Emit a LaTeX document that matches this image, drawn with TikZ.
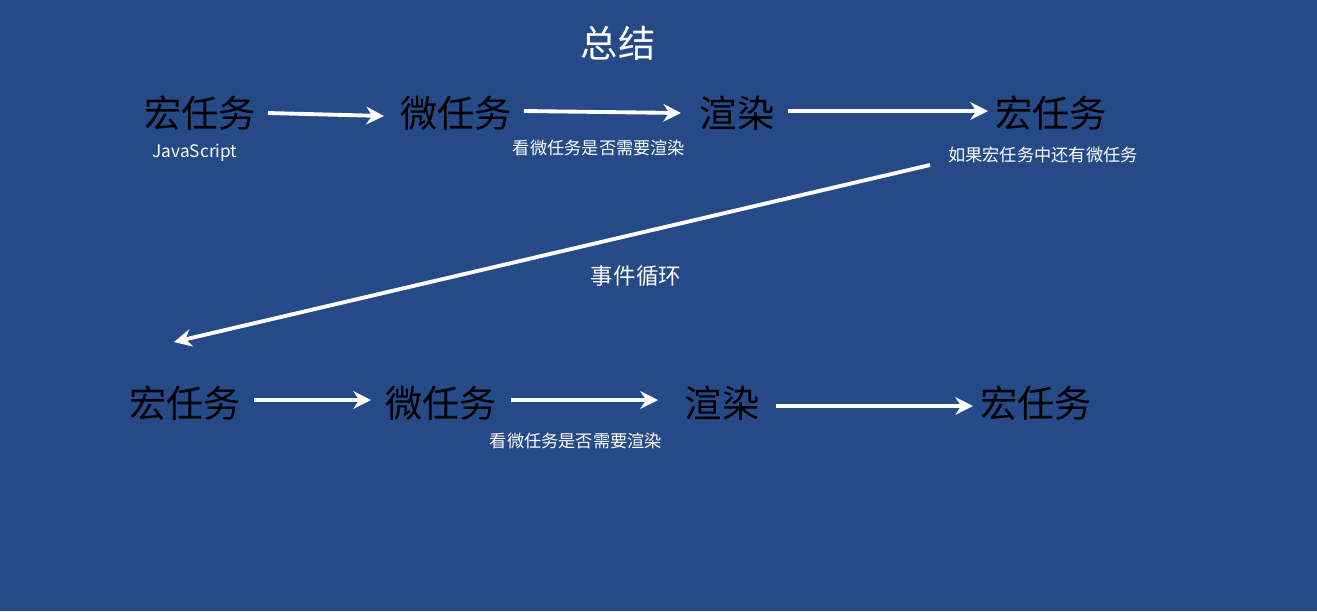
\documentclass[tikz,border=0pt]{standalone}
\usepackage{fontspec}
\setmainfont{Noto Sans CJK SC}
\usetikzlibrary{arrows.meta}
\definecolor{bg}{HTML}{264A87}
\begin{document}
\begin{tikzpicture}[x=0.01cm,y=-0.01cm,
  big/.style={font=\fontsize{10.6}{12}\selectfont,text=black,inner sep=0pt},
  small/.style={font=\fontsize{4.9}{6}\selectfont,text=white,inner sep=0pt},
  arr/.style={draw=white,line width=1.1pt,-{Stealth[length=5pt,width=5pt]}}]
\fill[bg] (0,0) rectangle (1317,611);
\useasboundingbox (0,0) rectangle (1317,611);
\node[font=\fontsize{10.6}{12}\selectfont,text=white] (t) at (618,43) {总结};
\node[big] (a1) at (200,113) {宏任务};
\node[big] (b1) at (456,113) {微任务};
\node[big] (c1) at (737,113) {渲染};
\node[big] (d1) at (1051,113) {宏任务};
\node[small] (js) at (195,153) {JavaScript};
\node[small] (l1) at (599,148) {看微任务是否需要渲染};
\node[small] (l2) at (1043,155) {如果宏任务中还有微任务};
\node[font=\fontsize{6.4}{8}\selectfont,text=white] (ev) at (636,276) {事件循环};
\node[big] (a2) at (185,403) {宏任务};
\node[big] (b2) at (441,403) {微任务};
\node[big] (c2) at (722,403) {渲染};
\node[big] (d2) at (1036,403) {宏任务};
\node[small] (l3) at (576,441) {看微任务是否需要渲染};
\foreach \n/\x/\y in {p1/268/113,q1/384/116,p2/524/111,q2/681/113,p3/788/111,q3/988/111,
  s0/930/165,e0/174/342,p4/254/400,q4/371/400,p5/511/400,q5/658/400,p6/776/406,q6/973/406}
  \coordinate (\n) at (\x,\y);
\draw[arr] (p1) -- (q1);
\draw[arr] (p2) -- (q2);
\draw[arr] (p3) -- (q3);
\draw[arr] (s0) -- (e0);
\draw[arr] (p4) -- (q4);
\draw[arr] (p5) -- (q5);
\draw[arr] (p6) -- (q6);
\end{tikzpicture}
\end{document}
